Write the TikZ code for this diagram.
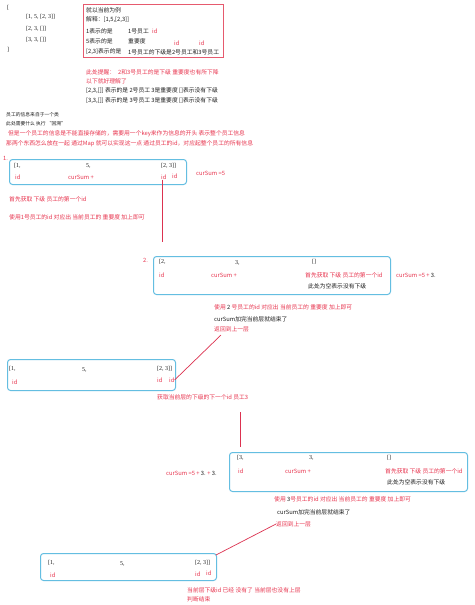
\documentclass[tikz,border=0pt]{standalone}
\usepackage{fontspec}
\setmainfont{Liberation Serif}
\newfontfamily\cjk{Noto Sans CJK SC}
\definecolor{rd}{RGB}{232,52,78}
\definecolor{bk}{RGB}{30,30,30}
\definecolor{bl}{RGB}{100,190,225}
\definecolor{rb}{RGB}{230,90,110}
\definecolor{rl}{RGB}{220,50,80}
\tikzset{
  tx/.style={anchor=west,inner sep=0pt,font=\cjk\fontsize{5.8}{7}\selectfont},
  rt/.style={tx,text=rd},
  bt/.style={tx,text=bk},
  st/.style={bt,font=\cjk\fontsize{4.8}{6}\selectfont},
  nt/.style={anchor=west,inner sep=0pt,text=bk,font=\fontsize{6}{7}\selectfont},
  bluebox/.style={draw=bl,line width=1pt,rounded corners=3pt,anchor=north west,inner sep=0pt},
  redbox/.style={draw=rb,line width=0.9pt,anchor=north west,inner sep=0pt},
  rline/.style={draw=rl,line width=0.7pt}
}
\begin{document}
\begin{tikzpicture}[x=1pt,y=-1pt]
\useasboundingbox[fill=white] (0,0) rectangle (474,605);
% top-left list
\node[nt] (lb) at (7,8) {[};
\node[nt] (l1) at (26,17) {[1, 5, [2, 3]]};
\node[nt] (l2) at (26,29) {[2, 3, []]};
\node[nt] (l3) at (26,40) {[3, 3, []]};
\node[nt] (rbk) at (7,50) {]};
% red box
\node[redbox,minimum width=140pt,minimum height=53pt] (rbox) at (83,4) {};
\node[bt] (e1) at (86,10) {就以当前为例};
\node[bt] (e2) at (86,20) {解释：[1,5,[2,3]]};
\node[bt] (e3) at (86,31) {1表示的是};
\node[bt] (e3b) at (128,31) {1号员工};
\node[rt] (e3c) at (152,31) {id};
\node[bt] (e4) at (86,41) {5表示的是};
\node[bt] (e4b) at (128,41) {重要度};
\node[rt] (e4c) at (174,43) {id};
\node[rt] (e4d) at (199,43) {id};
\node[bt] (e5) at (86,52) {[2,3]表示的是};
\node[bt] (e5b) at (128,52) {1号员工的下级是2号员工和3号员工};
% notes
\node[rt] (n1) at (86,72) {此处提醒：};
\node[rt] (n1b) at (118,72) {2和3号员工的是下级 重要度也有所下降};
\node[rt] (n2) at (86,81) {以下就好理解了};
\node[bt] (n3) at (86,91) {[2,3,[]] 表示的是 2号员工 3是重要度 []表示没有下级};
\node[bt] (n4) at (86,101) {[3,3,[]] 表示的是 3号员工 3是重要度 []表示没有下级};
\node[st] (n5) at (6,115) {员工的信息来自于一个类};
\node[st] (n6) at (6,124) {此处需要什么 执行 “回溯”};
\node[rt] (n7) at (8,134) {但是一个员工的信息是不能直接存储的，需要用一个key来作为信息的开头 表示整个员工信息};
\node[rt] (n8) at (6,144) {那两个东西怎么放在一起 通过Map 就可以实现这一点 通过员工的id，对应起整个员工的所有信息};
% step 1
\node[rt] (s1) at (3,158) {1.};
\node[bluebox,minimum width=177pt,minimum height=25pt] (box1) at (9,159) {};
\node[nt] (b1a) at (14,166) {[1,};
\node[nt] (b1b) at (86,166) {5,};
\node[nt] (b1c) at (161,166) {[2, 3]]};
\node[rt] (b1d) at (15,177) {id};
\node[rt] (b1e) at (68,177) {curSum +};
\node[rt] (b1f) at (161,177) {id};
\node[rt] (b1g) at (172,176) {id};
\node[rt] (c1) at (196,173) {curSum =5};
\node[rt] (t1) at (9,199) {首先获取 下级 员工的第一个id};
\node[rt] (t2) at (9,217) {使用1号员工的id 对应出 当前员工的 重要度 加上即可};
\coordinate (l1e) at (162,242);
\draw[rline] (b1f.south -| l1e) -- (l1e);
% step 2
\node[rt] (s2) at (143,260) {2.};
\node[bluebox,minimum width=237pt,minimum height=38pt] (box2) at (153,256) {};
\node[nt] (b2a) at (159,262) {[2,};
\node[nt] (b2b) at (235,263) {3,};
\node[nt] (b2c) at (312,262) {[]};
\node[rt] (b2d) at (159,275) {id};
\node[rt] (b2e) at (211,275) {curSum +};
\node[rt] (b2f) at (305,275) {首先获取 下级 员工的第一个id};
\node[bt] (b2g) at (308,286) {此处为空表示没有下级};
\node[rt] (c2) at (396,275) {curSum =5 + \textcolor{bk}{3.}};
\node[rt] (t3) at (214,307) {使用 \textcolor{bk}{2} 号员工的id 对应出 当前员工的 重要度 加上即可};
\node[bt] (t4) at (214,319) {curSum加完当前层就结束了};
\node[rt] (t5) at (214,329) {返回到上一层};
% step 3
\node[bluebox,minimum width=168pt,minimum height=31pt] (box3) at (7,359) {};
\node[nt] (b3a) at (9,369) {[1,};
\node[nt] (b3b) at (82,370) {5,};
\node[nt] (b3c) at (157,369) {[2, 3]]};
\node[rt] (b3d) at (12,382) {id};
\node[rt] (b3e) at (157,380) {id};
\node[rt] (b3f) at (169,380) {id};
\coordinate (l2s) at (221,335);
\draw[rline] (l2s) -- (b3f.east);
\node[rt] (t6) at (157,397) {获取当前层的下级的下一个id 员工3};
\coordinate (l3s) at (240,412);
\coordinate (l3e) at (240,447);
\draw[rline] (l3s) -- (l3e);
% step 4
\node[bluebox,minimum width=238pt,minimum height=39pt] (box4) at (229,452) {};
\node[nt] (b4a) at (237,458) {[3,};
\node[nt] (b4b) at (309,458) {3,};
\node[nt] (b4c) at (387,458) {[]};
\node[rt] (b4d) at (238,471) {id};
\node[rt] (b4e) at (285,471) {curSum +};
\node[rt] (b4f) at (385,471) {首先获取 下级 员工的第一个id};
\node[bt] (b4g) at (387,482) {此处为空表示没有下级};
\node[rt] (c3) at (166,473) {curSum =5 + \textcolor{bk}{3.} + \textcolor{bk}{3.}};
\node[rt] (t7) at (274,499) {使用 \textcolor{bk}{3}号员工的id 对应出 当前员工的 重要度 加上即可};
\node[bt] (t8) at (277,512) {curSum加完当前层就结束了};
\node[rt] (t9) at (276,524) {返回到上一层};
% step 5
\node[bluebox,minimum width=176pt,minimum height=27pt] (box5) at (40,553) {};
\node[nt] (b5a) at (48,563) {[1,};
\node[nt] (b5b) at (120,564) {5,};
\node[nt] (b5c) at (195,563) {[2, 3]]};
\node[rt] (b5d) at (50,575) {id};
\node[rt] (b5e) at (195,574) {id};
\node[rt] (b5f) at (206,573) {id};
\coordinate (l4e) at (216,555);
\draw[rline] (t9.west) -- (l4e);
\node[rt] (t10) at (187,590) {当前层下级id 已经 没有了 当前层也没有上层};
\node[rt] (t11) at (187,599) {判断结束};
\end{tikzpicture}
\end{document}
